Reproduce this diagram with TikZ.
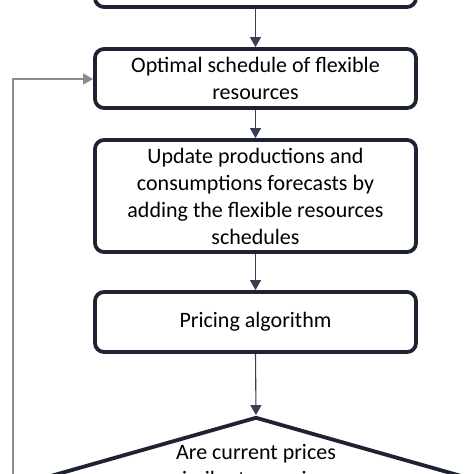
\documentclass[tikz,border=0pt]{standalone}
\usepackage{fontspec}
\setmainfont{Carlito}
\usetikzlibrary{arrows.meta,shapes.geometric}
\definecolor{boxc}{HTML}{1E2235}
\definecolor{linec}{HTML}{3A3E52}
\definecolor{loopc}{HTML}{8A8A94}
\tikzset{
  x=1pt,y=1pt,
  stepbox/.style={draw=boxc,line width=3.8pt,rounded corners=9pt,minimum width=321pt,align=center,font=\fontsize{22}{27}\selectfont,inner sep=0pt},
  conn/.style={draw=linec,line width=1.1pt,-{Triangle[length=10pt,width=11pt]}},
  loopline/.style={draw=loopc,line width=1.4pt,-{Triangle[length=10pt,width=11pt]}}
}
\begin{document}
\begin{tikzpicture}
\useasboundingbox (0,0) rectangle (474,-474);
\clip (0,0) rectangle (474,-474);
\fill[white] (0,0) rectangle (474,-474);
\node[stepbox,minimum height=45pt] (b1) at (255.5,15.5) {};
\node[stepbox,minimum height=59pt] (b2) at (255.5,-78.5) {Optimal schedule of flexible\\resources};
\node[stepbox,minimum height=112pt] (b3) at (255.5,-196) {Update productions and\\consumptions forecasts by\\adding the flexible resources\\schedules};
\node[stepbox,minimum height=60pt] (b4) at (255.5,-322) {Pricing algorithm};
\node[diamond,draw=boxc,line width=3.8pt,minimum width=486pt,minimum height=139pt,aspect=3.5,inner sep=0pt] (d) at (256,-486.5) {};
\node[font=\fontsize{22}{27}\selectfont,align=center,anchor=north] (dt) at (256,-441) {Are current prices\\similar to previous};
\coordinate (lc) at (13,-486.5);
\draw[conn] (b1.south) -- (b2.north);
\draw[conn] (b2.south) -- (b3.north);
\draw[conn] (b3.south) -- (b4.north);
\draw[conn] (b4.south) -- (d.north);
\draw[loopline] (lc) |- (b2.west |- 0,-79);
\end{tikzpicture}
\end{document}
